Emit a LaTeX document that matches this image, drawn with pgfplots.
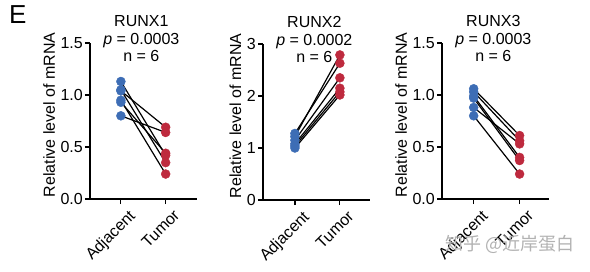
\documentclass[border=0pt]{standalone}
\usepackage{pgfplots}
\pgfplotsset{compat=1.18}
\usepackage{fontspec}
\setmainfont{Liberation Sans}
\newfontfamily\cjk{Noto Sans CJK SC}
\definecolor{myblue}{RGB}{61,109,181}
\definecolor{myred}{RGB}{190,42,62}
\pgfplotsset{
  runx/.style={
    scale only axis,
    width=107pt, height=156pt,
    anchor=south west,
    clip=false,
    axis x line*=bottom,
    axis y line*=left,
    axis line style={line width=1.2pt, black},
    every tick/.style={line width=1.2pt, black},
    major tick length=5pt,
    tick align=outside,
    xtick={0,1},
    xticklabels={Adjacent,Tumor},
    xticklabel style={xshift=7pt, yshift=-3pt, rotate=45, anchor=north east, inner sep=1pt, font=\fontsize{16}{18}\selectfont},
    yticklabel style={font=\fontsize{16}{18}\selectfont, inner sep=2pt},
    ylabel={Relative level of mRNA},
    ylabel style={font=\fontsize{16}{18}\selectfont, at={(ticklabel cs:0.54)}},
    /pgf/number format/assume math mode=true,
    title style={at={(axis description cs:0.48,1)}, anchor=south, yshift=-25pt, inner sep=0pt, align=center, font=\fontsize{16}{17.5}\selectfont},
    pair/.style={black, line width=1.2pt, forget plot},
    blu/.style={only marks, mark=*, mark size=4.5pt, myblue, mark options={draw=myblue, fill=myblue}},
    rd/.style={only marks, mark=*, mark size=4.5pt, myred, mark options={draw=myred, fill=myred}},
  }
}
\begin{document}
\begin{tikzpicture}
\useasboundingbox (0,0) rectangle (590pt,271pt);
\node[anchor=north west, inner sep=0pt, font=\fontsize{26}{28}\selectfont] at (9pt,266pt) {E};
% Panel 1
\begin{axis}[runx, at={(90pt,72pt)}, xmin=-0.69, xmax=1.7, ymin=0, ymax=1.5,
  ytick={0,0.5,1,1.5}, yticklabel style={/pgf/number format/.cd, fixed, fixed zerofill, precision=1},
  title={RUNX1\\\textit{p} = 0.0003\\n = 6}]
\addplot[pair] coordinates {(0,1.13) (1,0.42)};
\addplot[pair] coordinates {(0,1.05) (1,0.35)};
\addplot[pair] coordinates {(0,1.04) (1,0.69)};
\addplot[pair] coordinates {(0,0.95) (1,0.24)};
\addplot[pair] coordinates {(0,0.93) (1,0.44)};
\addplot[pair] coordinates {(0,0.80) (1,0.64)};
\addplot[blu] coordinates {(0,1.13) (0,1.05) (0,1.04) (0,0.95) (0,0.93) (0,0.80)};
\addplot[rd] coordinates {(1,0.42) (1,0.35) (1,0.69) (1,0.24) (1,0.44) (1,0.64)};
\end{axis}
% Panel 2
\begin{axis}[runx, at={(263pt,71pt)}, xmin=-0.71, xmax=1.67, ymin=0, ymax=3,
  ytick={0,1,2,3},
  title={RUNX2\\\textit{p} = 0.0002\\n = 6}]
\addplot[pair] coordinates {(0,1.28) (1,2.63)};
\addplot[pair] coordinates {(0,1.22) (1,2.79)};
\addplot[pair] coordinates {(0,1.15) (1,2.35)};
\addplot[pair] coordinates {(0,1.08) (1,2.15)};
\addplot[pair] coordinates {(0,1.04) (1,2.08)};
\addplot[pair] coordinates {(0,1.00) (1,2.02)};
\addplot[blu] coordinates {(0,1.28) (0,1.22) (0,1.15) (0,1.08) (0,1.04) (0,1.00)};
\addplot[rd] coordinates {(1,2.63) (1,2.79) (1,2.35) (1,2.15) (1,2.08) (1,2.02)};
\end{axis}
% Panel 3
\begin{axis}[runx, at={(442pt,72pt)}, xmin=-0.69, xmax=1.64, ymin=0, ymax=1.5,
  ytick={0,0.5,1,1.5}, yticklabel style={/pgf/number format/.cd, fixed, fixed zerofill, precision=1},
  title={RUNX3\\\textit{p} = 0.0003\\n = 6}]
\addplot[pair] coordinates {(0,1.06) (1,0.61)};
\addplot[pair] coordinates {(0,1.03) (1,0.56)};
\addplot[pair] coordinates {(0,0.99) (1,0.40)};
\addplot[pair] coordinates {(0,0.97) (1,0.37)};
\addplot[pair] coordinates {(0,0.88) (1,0.53)};
\addplot[pair] coordinates {(0,0.80) (1,0.24)};
\addplot[blu] coordinates {(0,1.06) (0,1.03) (0,0.99) (0,0.97) (0,0.88) (0,0.80)};
\addplot[rd] coordinates {(1,0.61) (1,0.56) (1,0.40) (1,0.37) (1,0.53) (1,0.24)};
\end{axis}
\node[text=black!30, font=\cjk\fontsize{18}{20}\selectfont] at (510pt,27pt) {知乎 @近岸蛋白};
\end{tikzpicture}
\end{document}
